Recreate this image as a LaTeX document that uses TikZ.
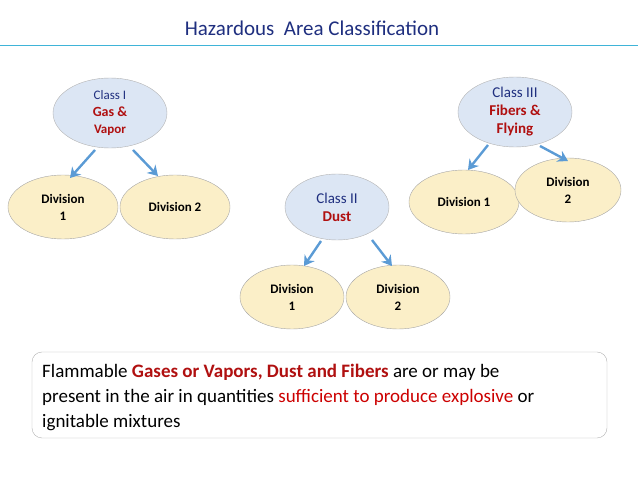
\documentclass[tikz,border=0pt]{standalone}
\usepackage{fontspec}
\setmainfont{Carlito}
\usetikzlibrary{arrows.meta,shapes.geometric}
\definecolor{navy}{HTML}{1F2F7F}
\definecolor{dred}{HTML}{B01010}
\definecolor{lblue}{HTML}{DCE6F4}
\definecolor{lyel}{HTML}{FBEFC8}
\definecolor{arr}{HTML}{5B9BD5}
\definecolor{tline}{HTML}{3FB4D8}
\begin{document}
\begin{tikzpicture}[x=1pt,y=-1pt,
 cls/.style={ellipse,draw=gray!60,fill=lblue,minimum width=114pt,minimum height=70pt,align=center,inner sep=0pt,text=navy,font=\fontsize{15}{18}\selectfont},
 div/.style={ellipse,draw=gray!70,fill=lyel,minimum width=110pt,minimum height=64pt,align=center,inner sep=0pt,font=\bfseries\fontsize{13}{17}\selectfont},
 ar/.style={draw=arr,line width=2.4pt,-{Stealth[length=10pt,width=12pt]}}]
\useasboundingbox (0,0) rectangle (638,478);
\node[text=navy,font=\fontsize{21}{24}\selectfont] (t) at (312,28) {Hazardous\ \ Area Classification};
\draw[draw=tline,line width=1pt] (0,46) -- (638,46);
\node[cls,font=\fontsize{13}{17}\selectfont] (c1) at (110,113) {Class I\\\textcolor{dred}{\bfseries\fontsize{14}{17}\selectfont Gas \&}\\\textcolor{dred}{\bfseries Vapor}};
\node[div] (d11) at (63,207) {Division\\1};
\node[div] (d12) at (175,207) {Division 2};
\node[cls,minimum width=104pt,minimum height=66pt] (c2) at (337,207) {Class II\\\textcolor{dred}{\bfseries Dust}};
\node[div,minimum width=104pt] (d21) at (292,297) {Division\\1};
\node[div,minimum width=104pt] (d22) at (398,297) {Division\\2};
\node[cls] (c3) at (515,112) {Class III\\\textcolor{dred}{\bfseries Fibers \&}\\\textcolor{dred}{\bfseries Flying}};
\node[div] (d31) at (464,202) {Division 1};
\node[div,minimum width=106pt] (d32) at (568,190) {Division\\2};
\coordinate (a1) at (95,150); \coordinate (b1) at (70,178);
\coordinate (a2) at (133,150); \coordinate (b2) at (158,176);
\coordinate (a3) at (321,241); \coordinate (b3) at (304,266);
\coordinate (a4) at (372,240); \coordinate (b4) at (392,266);
\coordinate (a5) at (488,145); \coordinate (b5) at (468,170);
\coordinate (a6) at (540,146); \coordinate (b6) at (568,161);
\draw[ar] (a1)--(b1); \draw[ar] (a2)--(b2); \draw[ar] (a3)--(b3);
\draw[ar] (a4)--(b4); \draw[ar] (a5)--(b5); \draw[ar] (a6)--(b6);
\node[draw=gray!60,rounded corners=10pt,minimum width=575pt,minimum height=86pt] (box) at (319.5,395) {};
\node[anchor=north west,align=left,inner sep=0pt,font=\fontsize{19}{25}\selectfont] (txt) at (42,364) {Flammable \textbf{\textcolor{dred}{Gases or Vapors, Dust and Fibers}} are or may be\\present in the air in quantities \textcolor{red!80!black}{sufficient to produce explosive} or\\ignitable mixtures};
\end{tikzpicture}
\end{document}
